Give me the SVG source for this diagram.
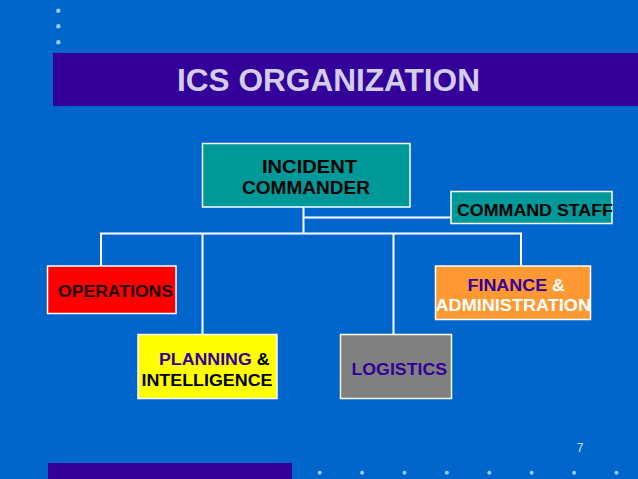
<svg xmlns="http://www.w3.org/2000/svg" width="638" height="479" viewBox="0 0 638 479">
<style>
.t{font-family:"Liberation Sans",Arial,sans-serif;font-weight:bold;}
.box{stroke:#ffffff;stroke-width:1.5;}
.dot{fill:#99ccff;}
.pur{fill:#330099;}
.blk{fill:#000000;}
.wht{fill:#ffffff;}
</style>
<rect x="0" y="0" width="638" height="479" fill="#0066cc"/>
<g id="decor">
<circle class="dot" cx="58.3" cy="10.7" r="2.2"/>
<circle class="dot" cx="58.3" cy="26.3" r="2.2"/>
<circle class="dot" cx="58.3" cy="42.3" r="2.2"/>
<rect x="53" y="53" width="585" height="53" fill="#330099"/>
<text class="t" x="177" y="91" font-size="31" fill="#d2cde8" textLength="303" lengthAdjust="spacingAndGlyphs">ICS ORGANIZATION</text>
<rect x="48" y="463" width="244" height="16" fill="#330099"/>
<circle class="dot" cx="319.7" cy="472.7" r="2"/>
<circle class="dot" cx="362.1" cy="472.7" r="2"/>
<circle class="dot" cx="404.5" cy="472.7" r="2"/>
<circle class="dot" cx="446.9" cy="472.7" r="2"/>
<circle class="dot" cx="489.3" cy="472.7" r="2"/>
<circle class="dot" cx="531.7" cy="472.7" r="2"/>
<circle class="dot" cx="574.1" cy="472.7" r="2"/>
<circle class="dot" cx="616.5" cy="472.7" r="2"/>
<text class="t" x="580" y="451.5" font-size="12" font-weight="normal" fill="#cce6ff" text-anchor="middle" style="font-weight:normal">7</text>
</g>
<g id="connectors" stroke="#ffffff" stroke-width="2" fill="none">
<line x1="303.5" y1="207" x2="303.5" y2="233.5"/>
<line x1="303.5" y1="217.5" x2="451" y2="217.5"/>
<line x1="100" y1="233.5" x2="522" y2="233.5"/>
<line x1="101" y1="233.5" x2="101" y2="266"/>
<line x1="202.5" y1="233.5" x2="202.5" y2="334"/>
<line x1="393.5" y1="233.5" x2="393.5" y2="334"/>
<line x1="521" y1="233.5" x2="521" y2="266"/>
</g>
<g id="incident-commander">
<rect class="box" x="202.5" y="143.5" width="207.5" height="63.5" fill="#009999"/>
<text class="t blk" x="262" y="173" font-size="18" textLength="95" lengthAdjust="spacingAndGlyphs">INCIDENT</text>
<text class="t blk" x="242" y="194" font-size="18" textLength="128" lengthAdjust="spacingAndGlyphs">COMMANDER</text>
</g>
<g id="command-staff">
<rect class="box" x="451" y="191.5" width="161" height="32" fill="#009999"/>
<text class="t blk" x="457" y="215.5" font-size="16" textLength="156" lengthAdjust="spacingAndGlyphs">COMMAND STAFF</text>
</g>
<g id="operations">
<rect class="box" x="47.5" y="266" width="128.5" height="47.5" fill="#ff0000"/>
<text class="t" x="58" y="297" font-size="16" fill="#1a0000" textLength="115" lengthAdjust="spacingAndGlyphs">OPERATIONS</text>
</g>
<g id="planning-intelligence">
<rect class="box" x="138" y="334.5" width="139" height="64" fill="#ffff00"/>
<text class="t" x="159" y="365" font-size="16" textLength="110.5" lengthAdjust="spacingAndGlyphs"><tspan class="pur">PLANNING</tspan><tspan class="blk"> &amp;</tspan></text>
<text class="t blk" x="141.5" y="385.5" font-size="16" textLength="131" lengthAdjust="spacingAndGlyphs">INTELLIGENCE</text>
</g>
<g id="logistics">
<rect class="box" x="340.5" y="334.5" width="111" height="64" fill="#808080"/>
<text class="t pur" x="351.5" y="375" font-size="16" textLength="95.5" lengthAdjust="spacingAndGlyphs">LOGISTICS</text>
</g>
<g id="finance-administration">
<rect class="box" x="435.5" y="266" width="155" height="53.5" fill="#ff9933"/>
<text class="t" x="467.5" y="290.7" font-size="16" textLength="97.5" lengthAdjust="spacingAndGlyphs"><tspan class="pur">FINANCE</tspan><tspan class="wht"> &amp;</tspan></text>
<text class="t wht" x="435.5" y="311" font-size="16" textLength="155.5" lengthAdjust="spacingAndGlyphs">ADMINISTRATION</text>
</g>
</svg>
